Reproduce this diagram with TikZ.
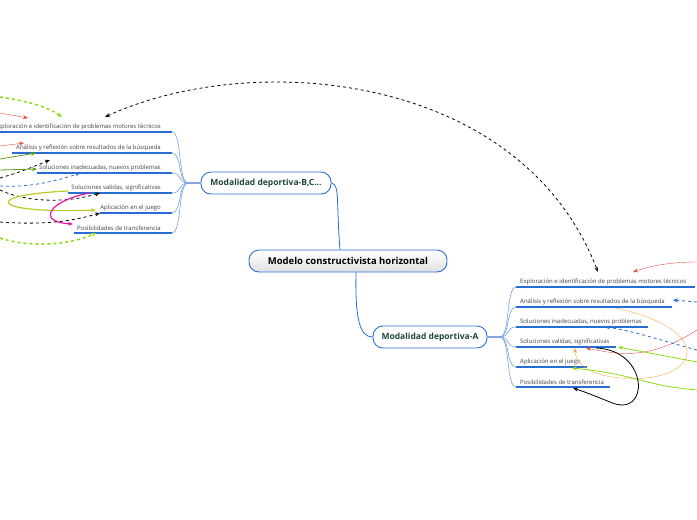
\documentclass[tikz,border=0pt]{standalone}
\usepackage{fontspec}
\setmainfont{Open Sans}
\usetikzlibrary{arrows.meta}
\definecolor{bl}{RGB}{40,110,210}
\definecolor{lb}{RGB}{120,160,225}
\definecolor{dg}{RGB}{30,70,60}
\definecolor{gr}{RGB}{140,220,20}
\definecolor{ol}{RGB}{190,200,40}
\definecolor{rd}{RGB}{230,80,70}
\definecolor{pk}{RGB}{230,20,170}
\definecolor{orn}{RGB}{250,170,80}
\begin{document}
\begin{tikzpicture}[x=1pt,y=-1pt,
 topic/.style={draw=bl,line width=0.9pt,rounded corners=10pt,minimum height=22pt,font=\fontsize{8.5}{10}\selectfont\bfseries,text=dg},
 item/.style={font=\fontsize{6}{7}\selectfont,text=black!75,inner sep=1pt},
 ul/.style={bl,line width=1.3pt},
 br/.style={lb,line width=0.6pt},
 tip/.style={-{Stealth[length=5pt,width=4pt]}}]
\useasboundingbox (0,0) rectangle (697,520);
\node[topic,top color=white,bottom color=black!12,minimum width=198pt,font=\fontsize{9.5}{11}\selectfont\bfseries,text=black] (c) at (348,261) {Modelo constructivista horizontal};
\node[topic,fill=white,minimum width=130pt] (l) at (266,183) {Modalidad deportiva-B,C...};
\node[topic,fill=white,minimum width=114pt] (r) at (430,337) {Modalidad deportiva-A};
\draw[bl,line width=0.8pt] (c.north) ++(-8,0) coordinate(c1) .. controls (336,200) and (340,185) .. (l.east);
\draw[bl,line width=0.8pt] (c.south) ++(8,0) .. controls (355,320) and (360,337) .. (r.west);
% left items
\foreach \t/\y/\x [count=\i] in {Exploración e identificación de problemas motores técnicos/132/-40,Análisis y reflexión sobre resultados de la búsqueda/153/12,Soluciones inadecuadas{,} nuevos problemas/173/37,Soluciones validas{,} significativas/193/68,Aplicación en el juego/213/100,Posibilidades de transferencia/233/74}{
 \coordinate (le\i) at (172,\y);
 \coordinate (ls\i) at (\x,\y);
 \node[item,anchor=south east] (lt\i) at (162,\y-1) {\t};
 \draw[ul] (ls\i) -- (le\i);
 \draw[br] (le\i) .. controls (182,\y) and (178,183) .. (188,183) -- (l.west);
}
% right items
\foreach \t/\y/\x [count=\i] in {Exploración e identificación de problemas motores técnicos/287/695,Análisis y reflexión sobre resultados de la búsqueda/307/672,Soluciones inadecuadas{,} nuevos problemas/327/648,Soluciones validas{,} significativas/347/616,Aplicación en el juego/367/587,Posibilidades de transferencia/387/610}{
 \coordinate (rs\i) at (516,\y);
 \coordinate (re\i) at (\x,\y);
 \node[item,anchor=south west] (rt\i) at (519,\y-1) {\t};
 \draw[ul] (rs\i) -- (re\i);
 \draw[br] (rs\i) .. controls (506,\y) and (510,337) .. (500,337) -- (r.east);
}
% long dashed link
\coordinate (a1) at (598,272);
\coordinate (a2) at (105,117);
\draw[dashed,thick,{Stealth[length=5pt]}-{Stealth[length=5pt]}] (a2) .. controls (250,50) and (520,70) .. (a1);
% left-side links
\coordinate (o1) at (0,97); \coordinate (o2) at (62,117);
\draw[gr,line width=1.5pt,dash pattern=on 3pt off 3pt,tip] (o1) .. controls (20,100) and (45,105) .. (o2);
\coordinate (o3) at (0,113); \coordinate (o4) at (28,118);
\draw[rd,tip] (o3) -- (o4);
\coordinate (o5) at (0,146); \coordinate (o6) at (24,143);
\draw[rd,tip] (o5) -- (o6);
\coordinate (o7) at (0,159); \coordinate (o8) at (36,153);
\draw[green!60!black!60,gr!70!black,thick,tip] (o7) -- (o8);
\coordinate (o9) at (0,178); \coordinate (o10) at (50,160);
\draw[dashed,thick,tip] (o9) .. controls (20,172) .. (o10);
\coordinate (o11) at (0,170); \coordinate (o12) at (37,169);
\draw[gr!70!black,thick,tip] (o11) -- (o12);
\coordinate (o13) at (0,186); \coordinate (o14) at (80,173);
\draw[bl,dashed,thick,tip] (o13) .. controls (30,188) and (60,180) .. (o14);
\coordinate (o15) at (0,190); \coordinate (o16) at (100,193);
\draw[dashed,thick,tip] (o15) .. controls (20,200) and (60,205) .. (o16);
\coordinate (o17) at (68,191); \coordinate (o18) at (96,210);
\draw[ol,line width=1.2pt,tip] (o17) .. controls (-20,195) and (-10,214) .. (o18);
\coordinate (o19) at (90,193); \coordinate (o20) at (73,224);
\draw[pk,line width=1.2pt,tip] (o19) .. controls (50,200) and (35,222) .. (o20);
\coordinate (o21) at (0,222); \coordinate (o22) at (100,213);
\draw[dashed,thick,tip] (o21) .. controls (40,225) and (70,222) .. (o22);
\coordinate (o23) at (0,238); \coordinate (o24) at (96,233);
\draw[gr,line width=1.5pt,dash pattern=on 3pt off 3pt,tip] (o23) .. controls (30,248) and (70,245) .. (o24);
% right-side links
\coordinate (p1) at (697,262); \coordinate (p2) at (633,272);
\draw[rd,tip] (p1) .. controls (670,262) and (650,266) .. (p2);
\coordinate (p3) at (697,302); \coordinate (p4) at (673,300);
\draw[bl,dashed,thick,tip] (p3) -- (p4);
\coordinate (p5) at (615,308); \coordinate (p6) at (575,348);
\draw[orn,tip] (p5) .. controls (720,330) and (700,385) .. (620,378) .. controls (585,375) and (575,360) .. (p6);
\coordinate (p7) at (697,330); \coordinate (p8) at (586,348);
\draw[rd,tip] (p7) .. controls (650,360) and (620,355) .. (p8);
\coordinate (p9) at (697,350); \coordinate (p10) at (605,327);
\draw[bl,dashed,thick,tip] (p9) .. controls (660,340) and (630,330) .. (p10);
\coordinate (p11) at (697,362); \coordinate (p12) at (618,347);
\draw[gr,thick,tip] (p11) -- (p12);
\coordinate (p13) at (697,390); \coordinate (p14) at (572,368);
\draw[gr,thick,tip] (p13) .. controls (640,385) and (640,375) .. (p14);
\coordinate (p15) at (596,348); \coordinate (p16) at (573,388);
\draw[thick,tip] (p15) .. controls (650,350) and (650,420) .. (610,402) .. controls (595,396) and (585,392) .. (p16);
\end{tikzpicture}
\end{document}
